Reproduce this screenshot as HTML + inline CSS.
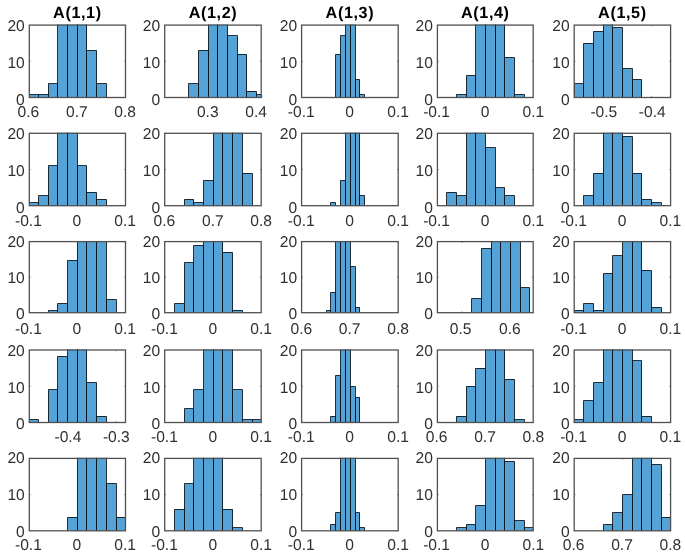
<!DOCTYPE html><html><head><meta charset="utf-8"><title>A histograms</title><style>html,body{margin:0;padding:0;background:#fff}svg{display:block}text{font-family:"Liberation Sans",Arial,sans-serif;text-rendering:geometricPrecision}</style></head><body>
<svg width="685" height="559" viewBox="0 0 685 559">
<rect width="685" height="559" fill="#fff"/>
<g><rect x="29.30" y="94.68" width="9.28" height="2.82" fill="#55a3d6"/><rect x="38.58" y="94.68" width="9.68" height="2.82" fill="#55a3d6"/><rect x="48.26" y="83.82" width="9.68" height="13.68" fill="#55a3d6"/><rect x="57.94" y="24.50" width="9.68" height="73.00" fill="#55a3d6"/><rect x="67.62" y="24.50" width="9.68" height="73.00" fill="#55a3d6"/><rect x="77.30" y="24.50" width="9.68" height="73.00" fill="#55a3d6"/><rect x="86.98" y="50.44" width="9.68" height="47.06" fill="#55a3d6"/><rect x="96.66" y="83.82" width="9.68" height="13.68" fill="#55a3d6"/><path d="M29.30 94.50H38.50V97.50" fill="none" stroke="#08141e" stroke-width="1" stroke-opacity="0.88"/><path d="M38.50 97.50V94.50H48.50V97.50" fill="none" stroke="#08141e" stroke-width="1" stroke-opacity="0.88"/><path d="M48.50 97.50V83.50H57.50V97.50" fill="none" stroke="#08141e" stroke-width="1" stroke-opacity="0.88"/><path d="M57.50 97.50V24.50M67.50 24.50V97.50" fill="none" stroke="#08141e" stroke-width="1" stroke-opacity="0.88"/><path d="M67.50 97.50V24.50M77.50 24.50V97.50" fill="none" stroke="#08141e" stroke-width="1" stroke-opacity="0.88"/><path d="M77.50 97.50V24.50M86.50 24.50V97.50" fill="none" stroke="#08141e" stroke-width="1" stroke-opacity="0.88"/><path d="M86.50 97.50V50.50H96.50V97.50" fill="none" stroke="#08141e" stroke-width="1" stroke-opacity="0.88"/><path d="M96.50 97.50V83.50H106.50V97.50" fill="none" stroke="#08141e" stroke-width="1" stroke-opacity="0.88"/><rect x="29.30" y="25.10" width="96.20" height="72.40" fill="none" stroke="#505050" stroke-width="1.3"/><path d="M29.30 61.30h1.2M125.50 61.30h-1.2" stroke="#505050" stroke-width="0.8"/><path d="M77.30 97.50v-1.2M77.30 25.10v1.2" stroke="#505050" stroke-width="0.8" fill="none"/><text x="24.80" y="104.50" font-size="15.6" fill="#303030" text-anchor="end" letter-spacing="0">0</text><text x="24.80" y="67.70" font-size="15.6" fill="#303030" text-anchor="end" letter-spacing="0">10</text><text x="24.80" y="30.90" font-size="15.6" fill="#303030" text-anchor="end" letter-spacing="0">20</text><text x="28.40" y="117.40" font-size="15.6" fill="#303030" text-anchor="middle" letter-spacing="0">0.6</text><text x="76.80" y="117.40" font-size="15.6" fill="#303030" text-anchor="middle" letter-spacing="0">0.7</text><text x="125.20" y="117.40" font-size="15.6" fill="#303030" text-anchor="middle" letter-spacing="0">0.8</text><text x="77.40" y="17.6" font-size="16.2" font-weight="bold" fill="#000" text-anchor="middle" letter-spacing="0.6">A(1,1)</text></g>
<g><rect x="188.86" y="83.82" width="9.68" height="13.68" fill="#55a3d6"/><rect x="198.54" y="50.44" width="9.68" height="47.06" fill="#55a3d6"/><rect x="208.22" y="24.50" width="9.68" height="73.00" fill="#55a3d6"/><rect x="217.90" y="24.50" width="9.68" height="73.00" fill="#55a3d6"/><rect x="227.58" y="35.96" width="9.68" height="61.54" fill="#55a3d6"/><rect x="237.26" y="54.06" width="9.68" height="43.44" fill="#55a3d6"/><rect x="246.94" y="91.06" width="9.68" height="6.44" fill="#55a3d6"/><rect x="256.62" y="94.68" width="5.78" height="2.82" fill="#55a3d6"/><path d="M188.50 97.50V83.50H198.50V97.50" fill="none" stroke="#08141e" stroke-width="1" stroke-opacity="0.88"/><path d="M198.50 97.50V50.50H208.50V97.50" fill="none" stroke="#08141e" stroke-width="1" stroke-opacity="0.88"/><path d="M208.50 97.50V24.50M217.50 24.50V97.50" fill="none" stroke="#08141e" stroke-width="1" stroke-opacity="0.88"/><path d="M217.50 97.50V24.50M227.50 24.50V97.50" fill="none" stroke="#08141e" stroke-width="1" stroke-opacity="0.88"/><path d="M227.50 97.50V35.50H237.50V97.50" fill="none" stroke="#08141e" stroke-width="1" stroke-opacity="0.88"/><path d="M237.50 97.50V54.50H246.50V97.50" fill="none" stroke="#08141e" stroke-width="1" stroke-opacity="0.88"/><path d="M246.50 97.50V91.50H256.50V97.50" fill="none" stroke="#08141e" stroke-width="1" stroke-opacity="0.88"/><path d="M256.50 97.50V94.50H261.20" fill="none" stroke="#08141e" stroke-width="1" stroke-opacity="0.88"/><rect x="164.70" y="25.10" width="96.50" height="72.40" fill="none" stroke="#505050" stroke-width="1.3"/><path d="M164.70 61.30h1.2M261.20 61.30h-1.2" stroke="#505050" stroke-width="0.8"/><path d="M208.22 97.50v-1.2M208.22 25.10v1.2M256.62 97.50v-1.2M256.62 25.10v1.2" stroke="#505050" stroke-width="0.8" fill="none"/><text x="160.20" y="104.50" font-size="15.6" fill="#303030" text-anchor="end" letter-spacing="0">0</text><text x="160.20" y="67.70" font-size="15.6" fill="#303030" text-anchor="end" letter-spacing="0">10</text><text x="160.20" y="30.90" font-size="15.6" fill="#303030" text-anchor="end" letter-spacing="0">20</text><text x="207.72" y="117.40" font-size="15.6" fill="#303030" text-anchor="middle" letter-spacing="0">0.3</text><text x="256.12" y="117.40" font-size="15.6" fill="#303030" text-anchor="middle" letter-spacing="0">0.4</text><text x="212.95" y="17.6" font-size="16.2" font-weight="bold" fill="#000" text-anchor="middle" letter-spacing="0.6">A(1,2)</text></g>
<g><rect x="335.68" y="54.06" width="4.84" height="43.44" fill="#55a3d6"/><rect x="340.52" y="35.96" width="4.84" height="61.54" fill="#55a3d6"/><rect x="345.36" y="24.50" width="4.84" height="73.00" fill="#55a3d6"/><rect x="350.20" y="24.50" width="4.84" height="73.00" fill="#55a3d6"/><rect x="355.04" y="79.40" width="4.84" height="18.10" fill="#55a3d6"/><rect x="359.88" y="94.68" width="4.84" height="2.82" fill="#55a3d6"/><path d="M335.50 97.50V54.50H340.50V97.50" fill="none" stroke="#08141e" stroke-width="1" stroke-opacity="0.88"/><path d="M340.50 97.50V35.50H345.50V97.50" fill="none" stroke="#08141e" stroke-width="1" stroke-opacity="0.88"/><path d="M345.50 97.50V24.50M350.50 24.50V97.50" fill="none" stroke="#08141e" stroke-width="1" stroke-opacity="0.88"/><path d="M350.50 97.50V24.50M355.50 24.50V97.50" fill="none" stroke="#08141e" stroke-width="1" stroke-opacity="0.88"/><path d="M355.50 97.50V79.50H359.50V97.50" fill="none" stroke="#08141e" stroke-width="1" stroke-opacity="0.88"/><path d="M359.50 97.50V94.50H364.50V97.50" fill="none" stroke="#08141e" stroke-width="1" stroke-opacity="0.88"/><rect x="301.60" y="25.10" width="96.60" height="72.40" fill="none" stroke="#505050" stroke-width="1.3"/><path d="M301.60 61.30h1.2M398.20 61.30h-1.2" stroke="#505050" stroke-width="0.8"/><path d="M350.20 97.50v-1.2M350.20 25.10v1.2" stroke="#505050" stroke-width="0.8" fill="none"/><text x="297.10" y="104.50" font-size="15.6" fill="#303030" text-anchor="end" letter-spacing="0">0</text><text x="297.10" y="67.70" font-size="15.6" fill="#303030" text-anchor="end" letter-spacing="0">10</text><text x="297.10" y="30.90" font-size="15.6" fill="#303030" text-anchor="end" letter-spacing="0">20</text><text x="301.30" y="117.40" font-size="15.6" fill="#303030" text-anchor="middle" letter-spacing="0">-0.1</text><text x="349.70" y="117.40" font-size="15.6" fill="#303030" text-anchor="middle" letter-spacing="0">0</text><text x="398.10" y="117.40" font-size="15.6" fill="#303030" text-anchor="middle" letter-spacing="0">0.1</text><text x="349.90" y="17.6" font-size="16.2" font-weight="bold" fill="#000" text-anchor="middle" letter-spacing="0.6">A(1,3)</text></g>
<g><rect x="456.46" y="94.68" width="9.68" height="2.82" fill="#55a3d6"/><rect x="466.14" y="75.78" width="9.68" height="21.72" fill="#55a3d6"/><rect x="475.82" y="24.50" width="9.68" height="73.00" fill="#55a3d6"/><rect x="485.50" y="24.50" width="9.68" height="73.00" fill="#55a3d6"/><rect x="495.18" y="24.50" width="9.68" height="73.00" fill="#55a3d6"/><rect x="504.86" y="57.68" width="9.68" height="39.82" fill="#55a3d6"/><rect x="514.54" y="94.68" width="9.68" height="2.82" fill="#55a3d6"/><path d="M456.50 97.50V94.50H466.50V97.50" fill="none" stroke="#08141e" stroke-width="1" stroke-opacity="0.88"/><path d="M466.50 97.50V75.50H475.50V97.50" fill="none" stroke="#08141e" stroke-width="1" stroke-opacity="0.88"/><path d="M475.50 97.50V24.50M485.50 24.50V97.50" fill="none" stroke="#08141e" stroke-width="1" stroke-opacity="0.88"/><path d="M485.50 97.50V24.50M495.50 24.50V97.50" fill="none" stroke="#08141e" stroke-width="1" stroke-opacity="0.88"/><path d="M495.50 97.50V24.50M504.50 24.50V97.50" fill="none" stroke="#08141e" stroke-width="1" stroke-opacity="0.88"/><path d="M504.50 97.50V57.50H514.50V97.50" fill="none" stroke="#08141e" stroke-width="1" stroke-opacity="0.88"/><path d="M514.50 97.50V94.50H524.50V97.50" fill="none" stroke="#08141e" stroke-width="1" stroke-opacity="0.88"/><rect x="437.40" y="25.10" width="95.80" height="72.40" fill="none" stroke="#505050" stroke-width="1.3"/><path d="M437.40 61.30h1.2M533.20 61.30h-1.2" stroke="#505050" stroke-width="0.8"/><path d="M485.50 97.50v-1.2M485.50 25.10v1.2" stroke="#505050" stroke-width="0.8" fill="none"/><text x="432.90" y="104.50" font-size="15.6" fill="#303030" text-anchor="end" letter-spacing="0">0</text><text x="432.90" y="67.70" font-size="15.6" fill="#303030" text-anchor="end" letter-spacing="0">10</text><text x="432.90" y="30.90" font-size="15.6" fill="#303030" text-anchor="end" letter-spacing="0">20</text><text x="436.60" y="117.40" font-size="15.6" fill="#303030" text-anchor="middle" letter-spacing="0">-0.1</text><text x="485.00" y="117.40" font-size="15.6" fill="#303030" text-anchor="middle" letter-spacing="0">0</text><text x="533.40" y="117.40" font-size="15.6" fill="#303030" text-anchor="middle" letter-spacing="0">0.1</text><text x="485.30" y="17.6" font-size="16.2" font-weight="bold" fill="#000" text-anchor="middle" letter-spacing="0.6">A(1,4)</text></g>
<g><rect x="574.20" y="83.82" width="9.58" height="13.68" fill="#55a3d6"/><rect x="583.78" y="43.20" width="9.68" height="54.30" fill="#55a3d6"/><rect x="593.46" y="31.44" width="9.68" height="66.06" fill="#55a3d6"/><rect x="603.14" y="24.50" width="9.68" height="73.00" fill="#55a3d6"/><rect x="612.82" y="27.81" width="9.68" height="69.69" fill="#55a3d6"/><rect x="622.50" y="68.54" width="9.68" height="28.96" fill="#55a3d6"/><rect x="632.18" y="79.40" width="9.68" height="18.10" fill="#55a3d6"/><path d="M574.50 97.50V83.50H583.50V97.50" fill="none" stroke="#08141e" stroke-width="1" stroke-opacity="0.88"/><path d="M583.50 97.50V43.50H593.50V97.50" fill="none" stroke="#08141e" stroke-width="1" stroke-opacity="0.88"/><path d="M593.50 97.50V31.50H603.50V97.50" fill="none" stroke="#08141e" stroke-width="1" stroke-opacity="0.88"/><path d="M603.50 97.50V24.50M612.50 24.50V97.50" fill="none" stroke="#08141e" stroke-width="1" stroke-opacity="0.88"/><path d="M612.50 97.50V27.50H622.50V97.50" fill="none" stroke="#08141e" stroke-width="1" stroke-opacity="0.88"/><path d="M622.50 97.50V68.50H632.50V97.50" fill="none" stroke="#08141e" stroke-width="1" stroke-opacity="0.88"/><path d="M632.50 97.50V79.50H641.50V97.50" fill="none" stroke="#08141e" stroke-width="1" stroke-opacity="0.88"/><rect x="574.20" y="25.10" width="96.40" height="72.40" fill="none" stroke="#505050" stroke-width="1.3"/><path d="M574.20 61.30h1.2M670.60 61.30h-1.2" stroke="#505050" stroke-width="0.8"/><path d="M603.14 97.50v-1.2M603.14 25.10v1.2M651.54 97.50v-1.2M651.54 25.10v1.2" stroke="#505050" stroke-width="0.8" fill="none"/><text x="569.70" y="104.50" font-size="15.6" fill="#303030" text-anchor="end" letter-spacing="0">0</text><text x="569.70" y="67.70" font-size="15.6" fill="#303030" text-anchor="end" letter-spacing="0">10</text><text x="569.70" y="30.90" font-size="15.6" fill="#303030" text-anchor="end" letter-spacing="0">20</text><text x="603.84" y="117.40" font-size="15.6" fill="#303030" text-anchor="middle" letter-spacing="0">-0.5</text><text x="652.24" y="117.40" font-size="15.6" fill="#303030" text-anchor="middle" letter-spacing="0">-0.4</text><text x="622.40" y="17.6" font-size="16.2" font-weight="bold" fill="#000" text-anchor="middle" letter-spacing="0.6">A(1,5)</text></g>
<g><rect x="29.30" y="202.88" width="9.28" height="2.82" fill="#55a3d6"/><rect x="38.58" y="195.64" width="9.68" height="10.06" fill="#55a3d6"/><rect x="48.26" y="165.88" width="9.68" height="39.82" fill="#55a3d6"/><rect x="57.94" y="132.70" width="9.68" height="73.00" fill="#55a3d6"/><rect x="67.62" y="132.70" width="9.68" height="73.00" fill="#55a3d6"/><rect x="77.30" y="165.88" width="9.68" height="39.82" fill="#55a3d6"/><rect x="86.98" y="192.02" width="9.68" height="13.68" fill="#55a3d6"/><rect x="96.66" y="199.26" width="9.68" height="6.44" fill="#55a3d6"/><path d="M29.30 202.50H38.50V205.70" fill="none" stroke="#08141e" stroke-width="1" stroke-opacity="0.88"/><path d="M38.50 205.70V195.50H48.50V205.70" fill="none" stroke="#08141e" stroke-width="1" stroke-opacity="0.88"/><path d="M48.50 205.70V165.50H57.50V205.70" fill="none" stroke="#08141e" stroke-width="1" stroke-opacity="0.88"/><path d="M57.50 205.70V132.70M67.50 132.70V205.70" fill="none" stroke="#08141e" stroke-width="1" stroke-opacity="0.88"/><path d="M67.50 205.70V132.70M77.50 132.70V205.70" fill="none" stroke="#08141e" stroke-width="1" stroke-opacity="0.88"/><path d="M77.50 205.70V165.50H86.50V205.70" fill="none" stroke="#08141e" stroke-width="1" stroke-opacity="0.88"/><path d="M86.50 205.70V192.50H96.50V205.70" fill="none" stroke="#08141e" stroke-width="1" stroke-opacity="0.88"/><path d="M96.50 205.70V199.50H106.50V205.70" fill="none" stroke="#08141e" stroke-width="1" stroke-opacity="0.88"/><rect x="29.30" y="133.30" width="96.20" height="72.40" fill="none" stroke="#505050" stroke-width="1.3"/><path d="M29.30 169.50h1.2M125.50 169.50h-1.2" stroke="#505050" stroke-width="0.8"/><path d="M77.30 205.70v-1.2M77.30 133.30v1.2" stroke="#505050" stroke-width="0.8" fill="none"/><text x="24.80" y="212.70" font-size="15.6" fill="#303030" text-anchor="end" letter-spacing="0">0</text><text x="24.80" y="175.90" font-size="15.6" fill="#303030" text-anchor="end" letter-spacing="0">10</text><text x="24.80" y="139.10" font-size="15.6" fill="#303030" text-anchor="end" letter-spacing="0">20</text><text x="28.40" y="225.60" font-size="15.6" fill="#303030" text-anchor="middle" letter-spacing="0">-0.1</text><text x="76.80" y="225.60" font-size="15.6" fill="#303030" text-anchor="middle" letter-spacing="0">0</text><text x="125.20" y="225.60" font-size="15.6" fill="#303030" text-anchor="middle" letter-spacing="0">0.1</text></g>
<g><rect x="184.26" y="199.26" width="9.68" height="6.44" fill="#55a3d6"/><rect x="193.94" y="202.88" width="9.68" height="2.82" fill="#55a3d6"/><rect x="203.62" y="180.36" width="9.68" height="25.34" fill="#55a3d6"/><rect x="213.30" y="132.70" width="9.68" height="73.00" fill="#55a3d6"/><rect x="222.98" y="132.70" width="9.68" height="73.00" fill="#55a3d6"/><rect x="232.66" y="132.70" width="9.68" height="73.00" fill="#55a3d6"/><rect x="242.34" y="173.12" width="9.68" height="32.58" fill="#55a3d6"/><path d="M184.50 205.70V199.50H193.50V205.70" fill="none" stroke="#08141e" stroke-width="1" stroke-opacity="0.88"/><path d="M193.50 205.70V202.50H203.50V205.70" fill="none" stroke="#08141e" stroke-width="1" stroke-opacity="0.88"/><path d="M203.50 205.70V180.50H213.50V205.70" fill="none" stroke="#08141e" stroke-width="1" stroke-opacity="0.88"/><path d="M213.50 205.70V132.70M222.50 132.70V205.70" fill="none" stroke="#08141e" stroke-width="1" stroke-opacity="0.88"/><path d="M222.50 205.70V132.70M232.50 132.70V205.70" fill="none" stroke="#08141e" stroke-width="1" stroke-opacity="0.88"/><path d="M232.50 205.70V132.70M242.50 132.70V205.70" fill="none" stroke="#08141e" stroke-width="1" stroke-opacity="0.88"/><path d="M242.50 205.70V173.50H252.50V205.70" fill="none" stroke="#08141e" stroke-width="1" stroke-opacity="0.88"/><rect x="164.70" y="133.30" width="96.50" height="72.40" fill="none" stroke="#505050" stroke-width="1.3"/><path d="M164.70 169.50h1.2M261.20 169.50h-1.2" stroke="#505050" stroke-width="0.8"/><path d="M213.30 205.70v-1.2M213.30 133.30v1.2" stroke="#505050" stroke-width="0.8" fill="none"/><text x="160.20" y="212.70" font-size="15.6" fill="#303030" text-anchor="end" letter-spacing="0">0</text><text x="160.20" y="175.90" font-size="15.6" fill="#303030" text-anchor="end" letter-spacing="0">10</text><text x="160.20" y="139.10" font-size="15.6" fill="#303030" text-anchor="end" letter-spacing="0">20</text><text x="164.40" y="225.60" font-size="15.6" fill="#303030" text-anchor="middle" letter-spacing="0">0.6</text><text x="212.80" y="225.60" font-size="15.6" fill="#303030" text-anchor="middle" letter-spacing="0">0.7</text><text x="261.20" y="225.60" font-size="15.6" fill="#303030" text-anchor="middle" letter-spacing="0">0.8</text></g>
<g><rect x="330.84" y="202.88" width="4.84" height="2.82" fill="#55a3d6"/><rect x="340.52" y="180.36" width="4.84" height="25.34" fill="#55a3d6"/><rect x="345.36" y="132.70" width="4.84" height="73.00" fill="#55a3d6"/><rect x="350.20" y="132.70" width="4.84" height="73.00" fill="#55a3d6"/><rect x="355.04" y="132.70" width="4.84" height="73.00" fill="#55a3d6"/><rect x="359.88" y="195.64" width="4.84" height="10.06" fill="#55a3d6"/><path d="M330.50 205.70V202.50H335.50V205.70" fill="none" stroke="#08141e" stroke-width="1" stroke-opacity="0.88"/><path d="M340.50 205.70V180.50H345.50V205.70" fill="none" stroke="#08141e" stroke-width="1" stroke-opacity="0.88"/><path d="M345.50 205.70V132.70M350.50 132.70V205.70" fill="none" stroke="#08141e" stroke-width="1" stroke-opacity="0.88"/><path d="M350.50 205.70V132.70M355.50 132.70V205.70" fill="none" stroke="#08141e" stroke-width="1" stroke-opacity="0.88"/><path d="M355.50 205.70V132.70M359.50 132.70V205.70" fill="none" stroke="#08141e" stroke-width="1" stroke-opacity="0.88"/><path d="M359.50 205.70V195.50H364.50V205.70" fill="none" stroke="#08141e" stroke-width="1" stroke-opacity="0.88"/><rect x="301.60" y="133.30" width="96.60" height="72.40" fill="none" stroke="#505050" stroke-width="1.3"/><path d="M301.60 169.50h1.2M398.20 169.50h-1.2" stroke="#505050" stroke-width="0.8"/><path d="M350.20 205.70v-1.2M350.20 133.30v1.2" stroke="#505050" stroke-width="0.8" fill="none"/><text x="297.10" y="212.70" font-size="15.6" fill="#303030" text-anchor="end" letter-spacing="0">0</text><text x="297.10" y="175.90" font-size="15.6" fill="#303030" text-anchor="end" letter-spacing="0">10</text><text x="297.10" y="139.10" font-size="15.6" fill="#303030" text-anchor="end" letter-spacing="0">20</text><text x="301.30" y="225.60" font-size="15.6" fill="#303030" text-anchor="middle" letter-spacing="0">-0.1</text><text x="349.70" y="225.60" font-size="15.6" fill="#303030" text-anchor="middle" letter-spacing="0">0</text><text x="398.10" y="225.60" font-size="15.6" fill="#303030" text-anchor="middle" letter-spacing="0">0.1</text></g>
<g><rect x="446.78" y="192.02" width="9.68" height="13.68" fill="#55a3d6"/><rect x="456.46" y="195.64" width="9.68" height="10.06" fill="#55a3d6"/><rect x="466.14" y="132.70" width="9.68" height="73.00" fill="#55a3d6"/><rect x="475.82" y="132.70" width="9.68" height="73.00" fill="#55a3d6"/><rect x="485.50" y="147.78" width="9.68" height="57.92" fill="#55a3d6"/><rect x="495.18" y="187.60" width="9.68" height="18.10" fill="#55a3d6"/><rect x="504.86" y="195.64" width="9.68" height="10.06" fill="#55a3d6"/><path d="M446.50 205.70V192.50H456.50V205.70" fill="none" stroke="#08141e" stroke-width="1" stroke-opacity="0.88"/><path d="M456.50 205.70V195.50H466.50V205.70" fill="none" stroke="#08141e" stroke-width="1" stroke-opacity="0.88"/><path d="M466.50 205.70V132.70M475.50 132.70V205.70" fill="none" stroke="#08141e" stroke-width="1" stroke-opacity="0.88"/><path d="M475.50 205.70V132.70M485.50 132.70V205.70" fill="none" stroke="#08141e" stroke-width="1" stroke-opacity="0.88"/><path d="M485.50 205.70V147.50H495.50V205.70" fill="none" stroke="#08141e" stroke-width="1" stroke-opacity="0.88"/><path d="M495.50 205.70V187.50H504.50V205.70" fill="none" stroke="#08141e" stroke-width="1" stroke-opacity="0.88"/><path d="M504.50 205.70V195.50H514.50V205.70" fill="none" stroke="#08141e" stroke-width="1" stroke-opacity="0.88"/><rect x="437.40" y="133.30" width="95.80" height="72.40" fill="none" stroke="#505050" stroke-width="1.3"/><path d="M437.40 169.50h1.2M533.20 169.50h-1.2" stroke="#505050" stroke-width="0.8"/><path d="M485.50 205.70v-1.2M485.50 133.30v1.2" stroke="#505050" stroke-width="0.8" fill="none"/><text x="432.90" y="212.70" font-size="15.6" fill="#303030" text-anchor="end" letter-spacing="0">0</text><text x="432.90" y="175.90" font-size="15.6" fill="#303030" text-anchor="end" letter-spacing="0">10</text><text x="432.90" y="139.10" font-size="15.6" fill="#303030" text-anchor="end" letter-spacing="0">20</text><text x="436.60" y="225.60" font-size="15.6" fill="#303030" text-anchor="middle" letter-spacing="0">-0.1</text><text x="485.00" y="225.60" font-size="15.6" fill="#303030" text-anchor="middle" letter-spacing="0">0</text><text x="533.40" y="225.60" font-size="15.6" fill="#303030" text-anchor="middle" letter-spacing="0">0.1</text></g>
<g><rect x="583.78" y="195.64" width="9.68" height="10.06" fill="#55a3d6"/><rect x="593.46" y="173.12" width="9.68" height="32.58" fill="#55a3d6"/><rect x="603.14" y="132.70" width="9.68" height="73.00" fill="#55a3d6"/><rect x="612.82" y="132.70" width="9.68" height="73.00" fill="#55a3d6"/><rect x="622.50" y="136.02" width="9.68" height="69.68" fill="#55a3d6"/><rect x="632.18" y="173.12" width="9.68" height="32.58" fill="#55a3d6"/><rect x="641.86" y="199.26" width="9.68" height="6.44" fill="#55a3d6"/><rect x="651.54" y="202.88" width="9.68" height="2.82" fill="#55a3d6"/><path d="M583.50 205.70V195.50H593.50V205.70" fill="none" stroke="#08141e" stroke-width="1" stroke-opacity="0.88"/><path d="M593.50 205.70V173.50H603.50V205.70" fill="none" stroke="#08141e" stroke-width="1" stroke-opacity="0.88"/><path d="M603.50 205.70V132.70M612.50 132.70V205.70" fill="none" stroke="#08141e" stroke-width="1" stroke-opacity="0.88"/><path d="M612.50 205.70V132.70M622.50 132.70V205.70" fill="none" stroke="#08141e" stroke-width="1" stroke-opacity="0.88"/><path d="M622.50 205.70V136.50H632.50V205.70" fill="none" stroke="#08141e" stroke-width="1" stroke-opacity="0.88"/><path d="M632.50 205.70V173.50H641.50V205.70" fill="none" stroke="#08141e" stroke-width="1" stroke-opacity="0.88"/><path d="M641.50 205.70V199.50H651.50V205.70" fill="none" stroke="#08141e" stroke-width="1" stroke-opacity="0.88"/><path d="M651.50 205.70V202.50H661.50V205.70" fill="none" stroke="#08141e" stroke-width="1" stroke-opacity="0.88"/><rect x="574.20" y="133.30" width="96.40" height="72.40" fill="none" stroke="#505050" stroke-width="1.3"/><path d="M574.20 169.50h1.2M670.60 169.50h-1.2" stroke="#505050" stroke-width="0.8"/><path d="M622.50 205.70v-1.2M622.50 133.30v1.2" stroke="#505050" stroke-width="0.8" fill="none"/><text x="569.70" y="212.70" font-size="15.6" fill="#303030" text-anchor="end" letter-spacing="0">0</text><text x="569.70" y="175.90" font-size="15.6" fill="#303030" text-anchor="end" letter-spacing="0">10</text><text x="569.70" y="139.10" font-size="15.6" fill="#303030" text-anchor="end" letter-spacing="0">20</text><text x="573.60" y="225.60" font-size="15.6" fill="#303030" text-anchor="middle" letter-spacing="0">-0.1</text><text x="622.00" y="225.60" font-size="15.6" fill="#303030" text-anchor="middle" letter-spacing="0">0</text><text x="670.40" y="225.60" font-size="15.6" fill="#303030" text-anchor="middle" letter-spacing="0">0.1</text></g>
<g><rect x="48.26" y="310.57" width="9.68" height="2.13" fill="#55a3d6"/><rect x="57.94" y="303.46" width="9.68" height="9.24" fill="#55a3d6"/><rect x="67.62" y="260.26" width="9.68" height="52.44" fill="#55a3d6"/><rect x="77.30" y="241.00" width="9.68" height="71.70" fill="#55a3d6"/><rect x="86.98" y="241.00" width="9.68" height="71.70" fill="#55a3d6"/><rect x="96.66" y="241.00" width="9.68" height="71.70" fill="#55a3d6"/><rect x="106.34" y="299.90" width="9.68" height="12.80" fill="#55a3d6"/><path d="M48.50 312.70V310.50H57.50V312.70" fill="none" stroke="#08141e" stroke-width="1" stroke-opacity="0.88"/><path d="M57.50 312.70V303.50H67.50V312.70" fill="none" stroke="#08141e" stroke-width="1" stroke-opacity="0.88"/><path d="M67.50 312.70V260.50H77.50V312.70" fill="none" stroke="#08141e" stroke-width="1" stroke-opacity="0.88"/><path d="M77.50 312.70V241.00M86.50 241.00V312.70" fill="none" stroke="#08141e" stroke-width="1" stroke-opacity="0.88"/><path d="M86.50 312.70V241.00M96.50 241.00V312.70" fill="none" stroke="#08141e" stroke-width="1" stroke-opacity="0.88"/><path d="M96.50 312.70V241.00M106.50 241.00V312.70" fill="none" stroke="#08141e" stroke-width="1" stroke-opacity="0.88"/><path d="M106.50 312.70V299.50H116.50V312.70" fill="none" stroke="#08141e" stroke-width="1" stroke-opacity="0.88"/><rect x="29.30" y="241.60" width="96.20" height="71.10" fill="none" stroke="#505050" stroke-width="1.3"/><path d="M29.30 277.15h1.2M125.50 277.15h-1.2" stroke="#505050" stroke-width="0.8"/><path d="M77.30 312.70v-1.2M77.30 241.60v1.2" stroke="#505050" stroke-width="0.8" fill="none"/><text x="24.80" y="319.10" font-size="15.6" fill="#303030" text-anchor="end" letter-spacing="0">0</text><text x="24.80" y="282.95" font-size="15.6" fill="#303030" text-anchor="end" letter-spacing="0">10</text><text x="24.80" y="246.80" font-size="15.6" fill="#303030" text-anchor="end" letter-spacing="0">20</text><text x="28.40" y="333.90" font-size="15.6" fill="#303030" text-anchor="middle" letter-spacing="0">-0.1</text><text x="76.80" y="333.90" font-size="15.6" fill="#303030" text-anchor="middle" letter-spacing="0">0</text><text x="125.20" y="333.90" font-size="15.6" fill="#303030" text-anchor="middle" letter-spacing="0">0.1</text></g>
<g><rect x="174.58" y="303.46" width="9.68" height="9.24" fill="#55a3d6"/><rect x="184.26" y="262.93" width="9.68" height="49.77" fill="#55a3d6"/><rect x="193.94" y="245.16" width="9.68" height="67.54" fill="#55a3d6"/><rect x="203.62" y="241.00" width="9.68" height="71.70" fill="#55a3d6"/><rect x="213.30" y="241.00" width="9.68" height="71.70" fill="#55a3d6"/><rect x="222.98" y="252.26" width="9.68" height="60.44" fill="#55a3d6"/><rect x="232.66" y="310.57" width="9.68" height="2.13" fill="#55a3d6"/><path d="M174.50 312.70V303.50H184.50V312.70" fill="none" stroke="#08141e" stroke-width="1" stroke-opacity="0.88"/><path d="M184.50 312.70V262.50H193.50V312.70" fill="none" stroke="#08141e" stroke-width="1" stroke-opacity="0.88"/><path d="M193.50 312.70V245.50H203.50V312.70" fill="none" stroke="#08141e" stroke-width="1" stroke-opacity="0.88"/><path d="M203.50 312.70V241.00M213.50 241.00V312.70" fill="none" stroke="#08141e" stroke-width="1" stroke-opacity="0.88"/><path d="M213.50 312.70V241.00M222.50 241.00V312.70" fill="none" stroke="#08141e" stroke-width="1" stroke-opacity="0.88"/><path d="M222.50 312.70V252.50H232.50V312.70" fill="none" stroke="#08141e" stroke-width="1" stroke-opacity="0.88"/><path d="M232.50 312.70V310.50H242.50V312.70" fill="none" stroke="#08141e" stroke-width="1" stroke-opacity="0.88"/><rect x="164.70" y="241.60" width="96.50" height="71.10" fill="none" stroke="#505050" stroke-width="1.3"/><path d="M164.70 277.15h1.2M261.20 277.15h-1.2" stroke="#505050" stroke-width="0.8"/><path d="M213.30 312.70v-1.2M213.30 241.60v1.2" stroke="#505050" stroke-width="0.8" fill="none"/><text x="160.20" y="319.10" font-size="15.6" fill="#303030" text-anchor="end" letter-spacing="0">0</text><text x="160.20" y="282.95" font-size="15.6" fill="#303030" text-anchor="end" letter-spacing="0">10</text><text x="160.20" y="246.80" font-size="15.6" fill="#303030" text-anchor="end" letter-spacing="0">20</text><text x="164.40" y="333.90" font-size="15.6" fill="#303030" text-anchor="middle" letter-spacing="0">-0.1</text><text x="212.80" y="333.90" font-size="15.6" fill="#303030" text-anchor="middle" letter-spacing="0">0</text><text x="261.20" y="333.90" font-size="15.6" fill="#303030" text-anchor="middle" letter-spacing="0">0.1</text></g>
<g><rect x="326.00" y="310.57" width="4.84" height="2.13" fill="#55a3d6"/><rect x="330.84" y="292.26" width="4.84" height="20.44" fill="#55a3d6"/><rect x="335.68" y="241.00" width="4.84" height="71.70" fill="#55a3d6"/><rect x="340.52" y="241.00" width="4.84" height="71.70" fill="#55a3d6"/><rect x="345.36" y="241.00" width="4.84" height="71.70" fill="#55a3d6"/><rect x="350.20" y="266.49" width="4.84" height="46.21" fill="#55a3d6"/><rect x="355.04" y="307.01" width="4.84" height="5.69" fill="#55a3d6"/><path d="M326.50 312.70V310.50H330.50V312.70" fill="none" stroke="#08141e" stroke-width="1" stroke-opacity="0.88"/><path d="M330.50 312.70V292.50H335.50V312.70" fill="none" stroke="#08141e" stroke-width="1" stroke-opacity="0.88"/><path d="M335.50 312.70V241.00M340.50 241.00V312.70" fill="none" stroke="#08141e" stroke-width="1" stroke-opacity="0.88"/><path d="M340.50 312.70V241.00M345.50 241.00V312.70" fill="none" stroke="#08141e" stroke-width="1" stroke-opacity="0.88"/><path d="M345.50 312.70V241.00M350.50 241.00V312.70" fill="none" stroke="#08141e" stroke-width="1" stroke-opacity="0.88"/><path d="M350.50 312.70V266.50H355.50V312.70" fill="none" stroke="#08141e" stroke-width="1" stroke-opacity="0.88"/><path d="M355.50 312.70V307.50H359.50V312.70" fill="none" stroke="#08141e" stroke-width="1" stroke-opacity="0.88"/><rect x="301.60" y="241.60" width="96.60" height="71.10" fill="none" stroke="#505050" stroke-width="1.3"/><path d="M301.60 277.15h1.2M398.20 277.15h-1.2" stroke="#505050" stroke-width="0.8"/><path d="M350.20 312.70v-1.2M350.20 241.60v1.2" stroke="#505050" stroke-width="0.8" fill="none"/><text x="297.10" y="319.10" font-size="15.6" fill="#303030" text-anchor="end" letter-spacing="0">0</text><text x="297.10" y="282.95" font-size="15.6" fill="#303030" text-anchor="end" letter-spacing="0">10</text><text x="297.10" y="246.80" font-size="15.6" fill="#303030" text-anchor="end" letter-spacing="0">20</text><text x="301.30" y="333.90" font-size="15.6" fill="#303030" text-anchor="middle" letter-spacing="0">0.6</text><text x="349.70" y="333.90" font-size="15.6" fill="#303030" text-anchor="middle" letter-spacing="0">0.7</text><text x="398.10" y="333.90" font-size="15.6" fill="#303030" text-anchor="middle" letter-spacing="0">0.8</text></g>
<g><rect x="471.66" y="298.84" width="9.68" height="13.86" fill="#55a3d6"/><rect x="481.34" y="248.71" width="9.68" height="63.99" fill="#55a3d6"/><rect x="491.02" y="241.00" width="9.68" height="71.70" fill="#55a3d6"/><rect x="500.70" y="241.00" width="9.68" height="71.70" fill="#55a3d6"/><rect x="510.38" y="241.00" width="9.68" height="71.70" fill="#55a3d6"/><rect x="520.06" y="287.81" width="9.68" height="24.88" fill="#55a3d6"/><path d="M471.50 312.70V298.50H481.50V312.70" fill="none" stroke="#08141e" stroke-width="1" stroke-opacity="0.88"/><path d="M481.50 312.70V248.50H491.50V312.70" fill="none" stroke="#08141e" stroke-width="1" stroke-opacity="0.88"/><path d="M491.50 312.70V241.00M500.50 241.00V312.70" fill="none" stroke="#08141e" stroke-width="1" stroke-opacity="0.88"/><path d="M500.50 312.70V241.00M510.50 241.00V312.70" fill="none" stroke="#08141e" stroke-width="1" stroke-opacity="0.88"/><path d="M510.50 312.70V241.00M520.50 241.00V312.70" fill="none" stroke="#08141e" stroke-width="1" stroke-opacity="0.88"/><path d="M520.50 312.70V287.50H529.50V312.70" fill="none" stroke="#08141e" stroke-width="1" stroke-opacity="0.88"/><rect x="437.40" y="241.60" width="95.80" height="71.10" fill="none" stroke="#505050" stroke-width="1.3"/><path d="M437.40 277.15h1.2M533.20 277.15h-1.2" stroke="#505050" stroke-width="0.8"/><path d="M461.98 312.70v-1.2M461.98 241.60v1.2M510.38 312.70v-1.2M510.38 241.60v1.2" stroke="#505050" stroke-width="0.8" fill="none"/><text x="432.90" y="319.10" font-size="15.6" fill="#303030" text-anchor="end" letter-spacing="0">0</text><text x="432.90" y="282.95" font-size="15.6" fill="#303030" text-anchor="end" letter-spacing="0">10</text><text x="432.90" y="246.80" font-size="15.6" fill="#303030" text-anchor="end" letter-spacing="0">20</text><text x="460.68" y="333.90" font-size="15.6" fill="#303030" text-anchor="middle" letter-spacing="0">0.5</text><text x="509.88" y="333.90" font-size="15.6" fill="#303030" text-anchor="middle" letter-spacing="0">0.6</text></g>
<g><rect x="574.20" y="310.57" width="9.58" height="2.13" fill="#55a3d6"/><rect x="583.78" y="303.46" width="9.68" height="9.24" fill="#55a3d6"/><rect x="593.46" y="310.57" width="9.68" height="2.13" fill="#55a3d6"/><rect x="603.14" y="273.59" width="9.68" height="39.11" fill="#55a3d6"/><rect x="612.82" y="255.82" width="9.68" height="56.88" fill="#55a3d6"/><rect x="622.50" y="241.00" width="9.68" height="71.70" fill="#55a3d6"/><rect x="632.18" y="241.00" width="9.68" height="71.70" fill="#55a3d6"/><rect x="641.86" y="270.04" width="9.68" height="42.66" fill="#55a3d6"/><rect x="651.54" y="307.01" width="9.68" height="5.69" fill="#55a3d6"/><path d="M574.50 312.70V310.50H583.50V312.70" fill="none" stroke="#08141e" stroke-width="1" stroke-opacity="0.88"/><path d="M583.50 312.70V303.50H593.50V312.70" fill="none" stroke="#08141e" stroke-width="1" stroke-opacity="0.88"/><path d="M593.50 312.70V310.50H603.50V312.70" fill="none" stroke="#08141e" stroke-width="1" stroke-opacity="0.88"/><path d="M603.50 312.70V273.50H612.50V312.70" fill="none" stroke="#08141e" stroke-width="1" stroke-opacity="0.88"/><path d="M612.50 312.70V255.50H622.50V312.70" fill="none" stroke="#08141e" stroke-width="1" stroke-opacity="0.88"/><path d="M622.50 312.70V241.00M632.50 241.00V312.70" fill="none" stroke="#08141e" stroke-width="1" stroke-opacity="0.88"/><path d="M632.50 312.70V241.00M641.50 241.00V312.70" fill="none" stroke="#08141e" stroke-width="1" stroke-opacity="0.88"/><path d="M641.50 312.70V270.50H651.50V312.70" fill="none" stroke="#08141e" stroke-width="1" stroke-opacity="0.88"/><path d="M651.50 312.70V307.50H661.50V312.70" fill="none" stroke="#08141e" stroke-width="1" stroke-opacity="0.88"/><rect x="574.20" y="241.60" width="96.40" height="71.10" fill="none" stroke="#505050" stroke-width="1.3"/><path d="M574.20 277.15h1.2M670.60 277.15h-1.2" stroke="#505050" stroke-width="0.8"/><path d="M622.50 312.70v-1.2M622.50 241.60v1.2" stroke="#505050" stroke-width="0.8" fill="none"/><text x="569.70" y="319.10" font-size="15.6" fill="#303030" text-anchor="end" letter-spacing="0">0</text><text x="569.70" y="282.95" font-size="15.6" fill="#303030" text-anchor="end" letter-spacing="0">10</text><text x="569.70" y="246.80" font-size="15.6" fill="#303030" text-anchor="end" letter-spacing="0">20</text><text x="573.60" y="333.90" font-size="15.6" fill="#303030" text-anchor="middle" letter-spacing="0">-0.1</text><text x="622.00" y="333.90" font-size="15.6" fill="#303030" text-anchor="middle" letter-spacing="0">0</text><text x="670.40" y="333.90" font-size="15.6" fill="#303030" text-anchor="middle" letter-spacing="0">0.1</text></g>
<g><rect x="29.30" y="419.67" width="9.28" height="2.83" fill="#55a3d6"/><rect x="48.26" y="389.88" width="9.68" height="32.62" fill="#55a3d6"/><rect x="57.94" y="356.34" width="9.68" height="66.16" fill="#55a3d6"/><rect x="67.62" y="349.40" width="9.68" height="73.10" fill="#55a3d6"/><rect x="77.30" y="349.40" width="9.68" height="73.10" fill="#55a3d6"/><rect x="86.98" y="382.62" width="9.68" height="39.88" fill="#55a3d6"/><rect x="96.66" y="416.05" width="9.68" height="6.45" fill="#55a3d6"/><path d="M29.30 419.50H38.50V422.50" fill="none" stroke="#08141e" stroke-width="1" stroke-opacity="0.88"/><path d="M48.50 422.50V389.50H57.50V422.50" fill="none" stroke="#08141e" stroke-width="1" stroke-opacity="0.88"/><path d="M57.50 422.50V356.50H67.50V422.50" fill="none" stroke="#08141e" stroke-width="1" stroke-opacity="0.88"/><path d="M67.50 422.50V349.40M77.50 349.40V422.50" fill="none" stroke="#08141e" stroke-width="1" stroke-opacity="0.88"/><path d="M77.50 422.50V349.40M86.50 349.40V422.50" fill="none" stroke="#08141e" stroke-width="1" stroke-opacity="0.88"/><path d="M86.50 422.50V382.50H96.50V422.50" fill="none" stroke="#08141e" stroke-width="1" stroke-opacity="0.88"/><path d="M96.50 422.50V416.50H106.50V422.50" fill="none" stroke="#08141e" stroke-width="1" stroke-opacity="0.88"/><rect x="29.30" y="350.00" width="96.20" height="72.50" fill="none" stroke="#505050" stroke-width="1.3"/><path d="M29.30 386.25h1.2M125.50 386.25h-1.2" stroke="#505050" stroke-width="0.8"/><path d="M67.62 422.50v-1.2M67.62 350.00v1.2M116.02 422.50v-1.2M116.02 350.00v1.2" stroke="#505050" stroke-width="0.8" fill="none"/><text x="24.80" y="429.40" font-size="15.6" fill="#303030" text-anchor="end" letter-spacing="0">0</text><text x="24.80" y="392.60" font-size="15.6" fill="#303030" text-anchor="end" letter-spacing="0">10</text><text x="24.80" y="355.80" font-size="15.6" fill="#303030" text-anchor="end" letter-spacing="0">20</text><text x="67.92" y="442.30" font-size="15.6" fill="#303030" text-anchor="middle" letter-spacing="0">-0.4</text><text x="116.32" y="442.30" font-size="15.6" fill="#303030" text-anchor="middle" letter-spacing="0">-0.3</text></g>
<g><rect x="184.26" y="408.80" width="9.68" height="13.70" fill="#55a3d6"/><rect x="193.94" y="389.88" width="9.68" height="32.62" fill="#55a3d6"/><rect x="203.62" y="349.40" width="9.68" height="73.10" fill="#55a3d6"/><rect x="213.30" y="349.40" width="9.68" height="73.10" fill="#55a3d6"/><rect x="222.98" y="349.40" width="9.68" height="73.10" fill="#55a3d6"/><rect x="232.66" y="389.88" width="9.68" height="32.62" fill="#55a3d6"/><rect x="242.34" y="419.67" width="9.68" height="2.83" fill="#55a3d6"/><rect x="252.02" y="419.67" width="9.68" height="2.83" fill="#55a3d6"/><path d="M184.50 422.50V408.50H193.50V422.50" fill="none" stroke="#08141e" stroke-width="1" stroke-opacity="0.88"/><path d="M193.50 422.50V389.50H203.50V422.50" fill="none" stroke="#08141e" stroke-width="1" stroke-opacity="0.88"/><path d="M203.50 422.50V349.40M213.50 349.40V422.50" fill="none" stroke="#08141e" stroke-width="1" stroke-opacity="0.88"/><path d="M213.50 422.50V349.40M222.50 349.40V422.50" fill="none" stroke="#08141e" stroke-width="1" stroke-opacity="0.88"/><path d="M222.50 422.50V349.40M232.50 349.40V422.50" fill="none" stroke="#08141e" stroke-width="1" stroke-opacity="0.88"/><path d="M232.50 422.50V389.50H242.50V422.50" fill="none" stroke="#08141e" stroke-width="1" stroke-opacity="0.88"/><path d="M242.50 422.50V419.50H252.50V422.50" fill="none" stroke="#08141e" stroke-width="1" stroke-opacity="0.88"/><path d="M252.50 422.50V419.50H261.20" fill="none" stroke="#08141e" stroke-width="1" stroke-opacity="0.88"/><rect x="164.70" y="350.00" width="96.50" height="72.50" fill="none" stroke="#505050" stroke-width="1.3"/><path d="M164.70 386.25h1.2M261.20 386.25h-1.2" stroke="#505050" stroke-width="0.8"/><path d="M213.30 422.50v-1.2M213.30 350.00v1.2" stroke="#505050" stroke-width="0.8" fill="none"/><text x="160.20" y="429.40" font-size="15.6" fill="#303030" text-anchor="end" letter-spacing="0">0</text><text x="160.20" y="392.60" font-size="15.6" fill="#303030" text-anchor="end" letter-spacing="0">10</text><text x="160.20" y="355.80" font-size="15.6" fill="#303030" text-anchor="end" letter-spacing="0">20</text><text x="164.40" y="442.30" font-size="15.6" fill="#303030" text-anchor="middle" letter-spacing="0">-0.1</text><text x="212.80" y="442.30" font-size="15.6" fill="#303030" text-anchor="middle" letter-spacing="0">0</text><text x="261.20" y="442.30" font-size="15.6" fill="#303030" text-anchor="middle" letter-spacing="0">0.1</text></g>
<g><rect x="330.84" y="416.05" width="4.84" height="6.45" fill="#55a3d6"/><rect x="335.68" y="375.38" width="4.84" height="47.12" fill="#55a3d6"/><rect x="340.52" y="349.40" width="4.84" height="73.10" fill="#55a3d6"/><rect x="345.36" y="349.40" width="4.84" height="73.10" fill="#55a3d6"/><rect x="350.20" y="386.25" width="4.84" height="36.25" fill="#55a3d6"/><rect x="355.04" y="397.12" width="4.84" height="25.38" fill="#55a3d6"/><path d="M330.50 422.50V416.50H335.50V422.50" fill="none" stroke="#08141e" stroke-width="1" stroke-opacity="0.88"/><path d="M335.50 422.50V375.50H340.50V422.50" fill="none" stroke="#08141e" stroke-width="1" stroke-opacity="0.88"/><path d="M340.50 422.50V349.40M345.50 349.40V422.50" fill="none" stroke="#08141e" stroke-width="1" stroke-opacity="0.88"/><path d="M345.50 422.50V349.40M350.50 349.40V422.50" fill="none" stroke="#08141e" stroke-width="1" stroke-opacity="0.88"/><path d="M350.50 422.50V386.50H355.50V422.50" fill="none" stroke="#08141e" stroke-width="1" stroke-opacity="0.88"/><path d="M355.50 422.50V397.50H359.50V422.50" fill="none" stroke="#08141e" stroke-width="1" stroke-opacity="0.88"/><rect x="301.60" y="350.00" width="96.60" height="72.50" fill="none" stroke="#505050" stroke-width="1.3"/><path d="M301.60 386.25h1.2M398.20 386.25h-1.2" stroke="#505050" stroke-width="0.8"/><path d="M350.20 422.50v-1.2M350.20 350.00v1.2" stroke="#505050" stroke-width="0.8" fill="none"/><text x="297.10" y="429.40" font-size="15.6" fill="#303030" text-anchor="end" letter-spacing="0">0</text><text x="297.10" y="392.60" font-size="15.6" fill="#303030" text-anchor="end" letter-spacing="0">10</text><text x="297.10" y="355.80" font-size="15.6" fill="#303030" text-anchor="end" letter-spacing="0">20</text><text x="301.30" y="442.30" font-size="15.6" fill="#303030" text-anchor="middle" letter-spacing="0">-0.1</text><text x="349.70" y="442.30" font-size="15.6" fill="#303030" text-anchor="middle" letter-spacing="0">0</text><text x="398.10" y="442.30" font-size="15.6" fill="#303030" text-anchor="middle" letter-spacing="0">0.1</text></g>
<g><rect x="456.46" y="416.05" width="9.68" height="6.45" fill="#55a3d6"/><rect x="466.14" y="386.25" width="9.68" height="36.25" fill="#55a3d6"/><rect x="475.82" y="368.12" width="9.68" height="54.38" fill="#55a3d6"/><rect x="485.50" y="349.40" width="9.68" height="73.10" fill="#55a3d6"/><rect x="495.18" y="349.40" width="9.68" height="73.10" fill="#55a3d6"/><rect x="504.86" y="379.00" width="9.68" height="43.50" fill="#55a3d6"/><rect x="514.54" y="419.67" width="9.68" height="2.83" fill="#55a3d6"/><path d="M456.50 422.50V416.50H466.50V422.50" fill="none" stroke="#08141e" stroke-width="1" stroke-opacity="0.88"/><path d="M466.50 422.50V386.50H475.50V422.50" fill="none" stroke="#08141e" stroke-width="1" stroke-opacity="0.88"/><path d="M475.50 422.50V368.50H485.50V422.50" fill="none" stroke="#08141e" stroke-width="1" stroke-opacity="0.88"/><path d="M485.50 422.50V349.40M495.50 349.40V422.50" fill="none" stroke="#08141e" stroke-width="1" stroke-opacity="0.88"/><path d="M495.50 422.50V349.40M504.50 349.40V422.50" fill="none" stroke="#08141e" stroke-width="1" stroke-opacity="0.88"/><path d="M504.50 422.50V379.50H514.50V422.50" fill="none" stroke="#08141e" stroke-width="1" stroke-opacity="0.88"/><path d="M514.50 422.50V419.50H524.50V422.50" fill="none" stroke="#08141e" stroke-width="1" stroke-opacity="0.88"/><rect x="437.40" y="350.00" width="95.80" height="72.50" fill="none" stroke="#505050" stroke-width="1.3"/><path d="M437.40 386.25h1.2M533.20 386.25h-1.2" stroke="#505050" stroke-width="0.8"/><path d="M485.50 422.50v-1.2M485.50 350.00v1.2" stroke="#505050" stroke-width="0.8" fill="none"/><text x="432.90" y="429.40" font-size="15.6" fill="#303030" text-anchor="end" letter-spacing="0">0</text><text x="432.90" y="392.60" font-size="15.6" fill="#303030" text-anchor="end" letter-spacing="0">10</text><text x="432.90" y="355.80" font-size="15.6" fill="#303030" text-anchor="end" letter-spacing="0">20</text><text x="436.60" y="442.30" font-size="15.6" fill="#303030" text-anchor="middle" letter-spacing="0">0.6</text><text x="485.00" y="442.30" font-size="15.6" fill="#303030" text-anchor="middle" letter-spacing="0">0.7</text><text x="533.40" y="442.30" font-size="15.6" fill="#303030" text-anchor="middle" letter-spacing="0">0.8</text></g>
<g><rect x="574.20" y="419.67" width="9.58" height="2.83" fill="#55a3d6"/><rect x="583.78" y="400.75" width="9.68" height="21.75" fill="#55a3d6"/><rect x="593.46" y="382.62" width="9.68" height="39.88" fill="#55a3d6"/><rect x="603.14" y="349.40" width="9.68" height="73.10" fill="#55a3d6"/><rect x="612.82" y="349.40" width="9.68" height="73.10" fill="#55a3d6"/><rect x="622.50" y="349.40" width="9.68" height="73.10" fill="#55a3d6"/><rect x="632.18" y="360.88" width="9.68" height="61.62" fill="#55a3d6"/><rect x="641.86" y="416.05" width="9.68" height="6.45" fill="#55a3d6"/><path d="M574.50 422.50V419.50H583.50V422.50" fill="none" stroke="#08141e" stroke-width="1" stroke-opacity="0.88"/><path d="M583.50 422.50V400.50H593.50V422.50" fill="none" stroke="#08141e" stroke-width="1" stroke-opacity="0.88"/><path d="M593.50 422.50V382.50H603.50V422.50" fill="none" stroke="#08141e" stroke-width="1" stroke-opacity="0.88"/><path d="M603.50 422.50V349.40M612.50 349.40V422.50" fill="none" stroke="#08141e" stroke-width="1" stroke-opacity="0.88"/><path d="M612.50 422.50V349.40M622.50 349.40V422.50" fill="none" stroke="#08141e" stroke-width="1" stroke-opacity="0.88"/><path d="M622.50 422.50V349.40M632.50 349.40V422.50" fill="none" stroke="#08141e" stroke-width="1" stroke-opacity="0.88"/><path d="M632.50 422.50V360.50H641.50V422.50" fill="none" stroke="#08141e" stroke-width="1" stroke-opacity="0.88"/><path d="M641.50 422.50V416.50H651.50V422.50" fill="none" stroke="#08141e" stroke-width="1" stroke-opacity="0.88"/><rect x="574.20" y="350.00" width="96.40" height="72.50" fill="none" stroke="#505050" stroke-width="1.3"/><path d="M574.20 386.25h1.2M670.60 386.25h-1.2" stroke="#505050" stroke-width="0.8"/><path d="M622.50 422.50v-1.2M622.50 350.00v1.2" stroke="#505050" stroke-width="0.8" fill="none"/><text x="569.70" y="429.40" font-size="15.6" fill="#303030" text-anchor="end" letter-spacing="0">0</text><text x="569.70" y="392.60" font-size="15.6" fill="#303030" text-anchor="end" letter-spacing="0">10</text><text x="569.70" y="355.80" font-size="15.6" fill="#303030" text-anchor="end" letter-spacing="0">20</text><text x="573.60" y="442.30" font-size="15.6" fill="#303030" text-anchor="middle" letter-spacing="0">-0.1</text><text x="622.00" y="442.30" font-size="15.6" fill="#303030" text-anchor="middle" letter-spacing="0">0</text><text x="670.40" y="442.30" font-size="15.6" fill="#303030" text-anchor="middle" letter-spacing="0">0.1</text></g>
<g><rect x="67.62" y="517.12" width="9.68" height="13.68" fill="#55a3d6"/><rect x="77.30" y="457.80" width="9.68" height="73.00" fill="#55a3d6"/><rect x="86.98" y="457.80" width="9.68" height="73.00" fill="#55a3d6"/><rect x="96.66" y="457.80" width="9.68" height="73.00" fill="#55a3d6"/><rect x="106.34" y="483.74" width="9.68" height="47.06" fill="#55a3d6"/><rect x="116.02" y="517.12" width="9.68" height="13.68" fill="#55a3d6"/><path d="M67.50 530.80V517.50H77.50V530.80" fill="none" stroke="#08141e" stroke-width="1" stroke-opacity="0.88"/><path d="M77.50 530.80V457.80M86.50 457.80V530.80" fill="none" stroke="#08141e" stroke-width="1" stroke-opacity="0.88"/><path d="M86.50 530.80V457.80M96.50 457.80V530.80" fill="none" stroke="#08141e" stroke-width="1" stroke-opacity="0.88"/><path d="M96.50 530.80V457.80M106.50 457.80V530.80" fill="none" stroke="#08141e" stroke-width="1" stroke-opacity="0.88"/><path d="M106.50 530.80V483.50H116.50V530.80" fill="none" stroke="#08141e" stroke-width="1" stroke-opacity="0.88"/><path d="M116.50 530.80V517.50H125.50V530.80" fill="none" stroke="#08141e" stroke-width="1" stroke-opacity="0.88"/><rect x="29.30" y="458.40" width="96.20" height="72.40" fill="none" stroke="#505050" stroke-width="1.3"/><path d="M29.30 494.60h1.2M125.50 494.60h-1.2" stroke="#505050" stroke-width="0.8"/><path d="M77.30 530.80v-1.2M77.30 458.40v1.2" stroke="#505050" stroke-width="0.8" fill="none"/><text x="24.80" y="537.00" font-size="15.6" fill="#303030" text-anchor="end" letter-spacing="0">0</text><text x="24.80" y="500.20" font-size="15.6" fill="#303030" text-anchor="end" letter-spacing="0">10</text><text x="24.80" y="463.40" font-size="15.6" fill="#303030" text-anchor="end" letter-spacing="0">20</text><text x="28.40" y="550.20" font-size="15.6" fill="#303030" text-anchor="middle" letter-spacing="0">-0.1</text><text x="76.80" y="550.20" font-size="15.6" fill="#303030" text-anchor="middle" letter-spacing="0">0</text><text x="125.20" y="550.20" font-size="15.6" fill="#303030" text-anchor="middle" letter-spacing="0">0.1</text></g>
<g><rect x="174.58" y="509.08" width="9.68" height="21.72" fill="#55a3d6"/><rect x="184.26" y="483.74" width="9.68" height="47.06" fill="#55a3d6"/><rect x="193.94" y="457.80" width="9.68" height="73.00" fill="#55a3d6"/><rect x="203.62" y="457.80" width="9.68" height="73.00" fill="#55a3d6"/><rect x="213.30" y="457.80" width="9.68" height="73.00" fill="#55a3d6"/><rect x="222.98" y="509.08" width="9.68" height="21.72" fill="#55a3d6"/><rect x="232.66" y="527.98" width="9.68" height="2.82" fill="#55a3d6"/><path d="M174.50 530.80V509.50H184.50V530.80" fill="none" stroke="#08141e" stroke-width="1" stroke-opacity="0.88"/><path d="M184.50 530.80V483.50H193.50V530.80" fill="none" stroke="#08141e" stroke-width="1" stroke-opacity="0.88"/><path d="M193.50 530.80V457.80M203.50 457.80V530.80" fill="none" stroke="#08141e" stroke-width="1" stroke-opacity="0.88"/><path d="M203.50 530.80V457.80M213.50 457.80V530.80" fill="none" stroke="#08141e" stroke-width="1" stroke-opacity="0.88"/><path d="M213.50 530.80V457.80M222.50 457.80V530.80" fill="none" stroke="#08141e" stroke-width="1" stroke-opacity="0.88"/><path d="M222.50 530.80V509.50H232.50V530.80" fill="none" stroke="#08141e" stroke-width="1" stroke-opacity="0.88"/><path d="M232.50 530.80V527.50H242.50V530.80" fill="none" stroke="#08141e" stroke-width="1" stroke-opacity="0.88"/><rect x="164.70" y="458.40" width="96.50" height="72.40" fill="none" stroke="#505050" stroke-width="1.3"/><path d="M164.70 494.60h1.2M261.20 494.60h-1.2" stroke="#505050" stroke-width="0.8"/><path d="M213.30 530.80v-1.2M213.30 458.40v1.2" stroke="#505050" stroke-width="0.8" fill="none"/><text x="160.20" y="537.00" font-size="15.6" fill="#303030" text-anchor="end" letter-spacing="0">0</text><text x="160.20" y="500.20" font-size="15.6" fill="#303030" text-anchor="end" letter-spacing="0">10</text><text x="160.20" y="463.40" font-size="15.6" fill="#303030" text-anchor="end" letter-spacing="0">20</text><text x="164.40" y="550.20" font-size="15.6" fill="#303030" text-anchor="middle" letter-spacing="0">-0.1</text><text x="212.80" y="550.20" font-size="15.6" fill="#303030" text-anchor="middle" letter-spacing="0">0</text><text x="261.20" y="550.20" font-size="15.6" fill="#303030" text-anchor="middle" letter-spacing="0">0.1</text></g>
<g><rect x="330.84" y="524.36" width="4.84" height="6.44" fill="#55a3d6"/><rect x="335.68" y="512.70" width="4.84" height="18.10" fill="#55a3d6"/><rect x="340.52" y="457.80" width="4.84" height="73.00" fill="#55a3d6"/><rect x="345.36" y="457.80" width="4.84" height="73.00" fill="#55a3d6"/><rect x="350.20" y="457.80" width="4.84" height="73.00" fill="#55a3d6"/><rect x="355.04" y="512.70" width="4.84" height="18.10" fill="#55a3d6"/><rect x="359.88" y="527.98" width="4.84" height="2.82" fill="#55a3d6"/><path d="M330.50 530.80V524.50H335.50V530.80" fill="none" stroke="#08141e" stroke-width="1" stroke-opacity="0.88"/><path d="M335.50 530.80V512.50H340.50V530.80" fill="none" stroke="#08141e" stroke-width="1" stroke-opacity="0.88"/><path d="M340.50 530.80V457.80M345.50 457.80V530.80" fill="none" stroke="#08141e" stroke-width="1" stroke-opacity="0.88"/><path d="M345.50 530.80V457.80M350.50 457.80V530.80" fill="none" stroke="#08141e" stroke-width="1" stroke-opacity="0.88"/><path d="M350.50 530.80V457.80M355.50 457.80V530.80" fill="none" stroke="#08141e" stroke-width="1" stroke-opacity="0.88"/><path d="M355.50 530.80V512.50H359.50V530.80" fill="none" stroke="#08141e" stroke-width="1" stroke-opacity="0.88"/><path d="M359.50 530.80V527.50H364.50V530.80" fill="none" stroke="#08141e" stroke-width="1" stroke-opacity="0.88"/><rect x="301.60" y="458.40" width="96.60" height="72.40" fill="none" stroke="#505050" stroke-width="1.3"/><path d="M301.60 494.60h1.2M398.20 494.60h-1.2" stroke="#505050" stroke-width="0.8"/><path d="M350.20 530.80v-1.2M350.20 458.40v1.2" stroke="#505050" stroke-width="0.8" fill="none"/><text x="297.10" y="537.00" font-size="15.6" fill="#303030" text-anchor="end" letter-spacing="0">0</text><text x="297.10" y="500.20" font-size="15.6" fill="#303030" text-anchor="end" letter-spacing="0">10</text><text x="297.10" y="463.40" font-size="15.6" fill="#303030" text-anchor="end" letter-spacing="0">20</text><text x="301.30" y="550.20" font-size="15.6" fill="#303030" text-anchor="middle" letter-spacing="0">-0.1</text><text x="349.70" y="550.20" font-size="15.6" fill="#303030" text-anchor="middle" letter-spacing="0">0</text><text x="398.10" y="550.20" font-size="15.6" fill="#303030" text-anchor="middle" letter-spacing="0">0.1</text></g>
<g><rect x="456.46" y="527.98" width="9.68" height="2.82" fill="#55a3d6"/><rect x="466.14" y="524.36" width="9.68" height="6.44" fill="#55a3d6"/><rect x="475.82" y="505.46" width="9.68" height="25.34" fill="#55a3d6"/><rect x="485.50" y="457.80" width="9.68" height="73.00" fill="#55a3d6"/><rect x="495.18" y="457.80" width="9.68" height="73.00" fill="#55a3d6"/><rect x="504.86" y="461.12" width="9.68" height="69.68" fill="#55a3d6"/><rect x="514.54" y="520.74" width="9.68" height="10.06" fill="#55a3d6"/><rect x="524.22" y="527.98" width="9.68" height="2.82" fill="#55a3d6"/><path d="M456.50 530.80V527.50H466.50V530.80" fill="none" stroke="#08141e" stroke-width="1" stroke-opacity="0.88"/><path d="M466.50 530.80V524.50H475.50V530.80" fill="none" stroke="#08141e" stroke-width="1" stroke-opacity="0.88"/><path d="M475.50 530.80V505.50H485.50V530.80" fill="none" stroke="#08141e" stroke-width="1" stroke-opacity="0.88"/><path d="M485.50 530.80V457.80M495.50 457.80V530.80" fill="none" stroke="#08141e" stroke-width="1" stroke-opacity="0.88"/><path d="M495.50 530.80V457.80M504.50 457.80V530.80" fill="none" stroke="#08141e" stroke-width="1" stroke-opacity="0.88"/><path d="M504.50 530.80V461.50H514.50V530.80" fill="none" stroke="#08141e" stroke-width="1" stroke-opacity="0.88"/><path d="M514.50 530.80V520.50H524.50V530.80" fill="none" stroke="#08141e" stroke-width="1" stroke-opacity="0.88"/><path d="M524.50 530.80V527.50H533.20" fill="none" stroke="#08141e" stroke-width="1" stroke-opacity="0.88"/><rect x="437.40" y="458.40" width="95.80" height="72.40" fill="none" stroke="#505050" stroke-width="1.3"/><path d="M437.40 494.60h1.2M533.20 494.60h-1.2" stroke="#505050" stroke-width="0.8"/><path d="M485.50 530.80v-1.2M485.50 458.40v1.2" stroke="#505050" stroke-width="0.8" fill="none"/><text x="432.90" y="537.00" font-size="15.6" fill="#303030" text-anchor="end" letter-spacing="0">0</text><text x="432.90" y="500.20" font-size="15.6" fill="#303030" text-anchor="end" letter-spacing="0">10</text><text x="432.90" y="463.40" font-size="15.6" fill="#303030" text-anchor="end" letter-spacing="0">20</text><text x="436.60" y="550.20" font-size="15.6" fill="#303030" text-anchor="middle" letter-spacing="0">-0.1</text><text x="485.00" y="550.20" font-size="15.6" fill="#303030" text-anchor="middle" letter-spacing="0">0</text><text x="533.40" y="550.20" font-size="15.6" fill="#303030" text-anchor="middle" letter-spacing="0">0.1</text></g>
<g><rect x="603.14" y="524.36" width="9.68" height="6.44" fill="#55a3d6"/><rect x="612.82" y="512.70" width="9.68" height="18.10" fill="#55a3d6"/><rect x="622.50" y="494.60" width="9.68" height="36.20" fill="#55a3d6"/><rect x="632.18" y="457.80" width="9.68" height="73.00" fill="#55a3d6"/><rect x="641.86" y="457.80" width="9.68" height="73.00" fill="#55a3d6"/><rect x="651.54" y="464.73" width="9.68" height="66.06" fill="#55a3d6"/><rect x="661.22" y="517.12" width="9.68" height="13.68" fill="#55a3d6"/><path d="M603.50 530.80V524.50H612.50V530.80" fill="none" stroke="#08141e" stroke-width="1" stroke-opacity="0.88"/><path d="M612.50 530.80V512.50H622.50V530.80" fill="none" stroke="#08141e" stroke-width="1" stroke-opacity="0.88"/><path d="M622.50 530.80V494.50H632.50V530.80" fill="none" stroke="#08141e" stroke-width="1" stroke-opacity="0.88"/><path d="M632.50 530.80V457.80M641.50 457.80V530.80" fill="none" stroke="#08141e" stroke-width="1" stroke-opacity="0.88"/><path d="M641.50 530.80V457.80M651.50 457.80V530.80" fill="none" stroke="#08141e" stroke-width="1" stroke-opacity="0.88"/><path d="M651.50 530.80V464.50H661.50V530.80" fill="none" stroke="#08141e" stroke-width="1" stroke-opacity="0.88"/><path d="M661.50 530.80V517.50H670.50V530.80" fill="none" stroke="#08141e" stroke-width="1" stroke-opacity="0.88"/><rect x="574.20" y="458.40" width="96.40" height="72.40" fill="none" stroke="#505050" stroke-width="1.3"/><path d="M574.20 494.60h1.2M670.60 494.60h-1.2" stroke="#505050" stroke-width="0.8"/><path d="M622.50 530.80v-1.2M622.50 458.40v1.2" stroke="#505050" stroke-width="0.8" fill="none"/><text x="569.70" y="537.00" font-size="15.6" fill="#303030" text-anchor="end" letter-spacing="0">0</text><text x="569.70" y="500.20" font-size="15.6" fill="#303030" text-anchor="end" letter-spacing="0">10</text><text x="569.70" y="463.40" font-size="15.6" fill="#303030" text-anchor="end" letter-spacing="0">20</text><text x="573.60" y="550.20" font-size="15.6" fill="#303030" text-anchor="middle" letter-spacing="0">0.6</text><text x="622.00" y="550.20" font-size="15.6" fill="#303030" text-anchor="middle" letter-spacing="0">0.7</text><text x="670.40" y="550.20" font-size="15.6" fill="#303030" text-anchor="middle" letter-spacing="0">0.8</text></g>
</svg></body></html>
